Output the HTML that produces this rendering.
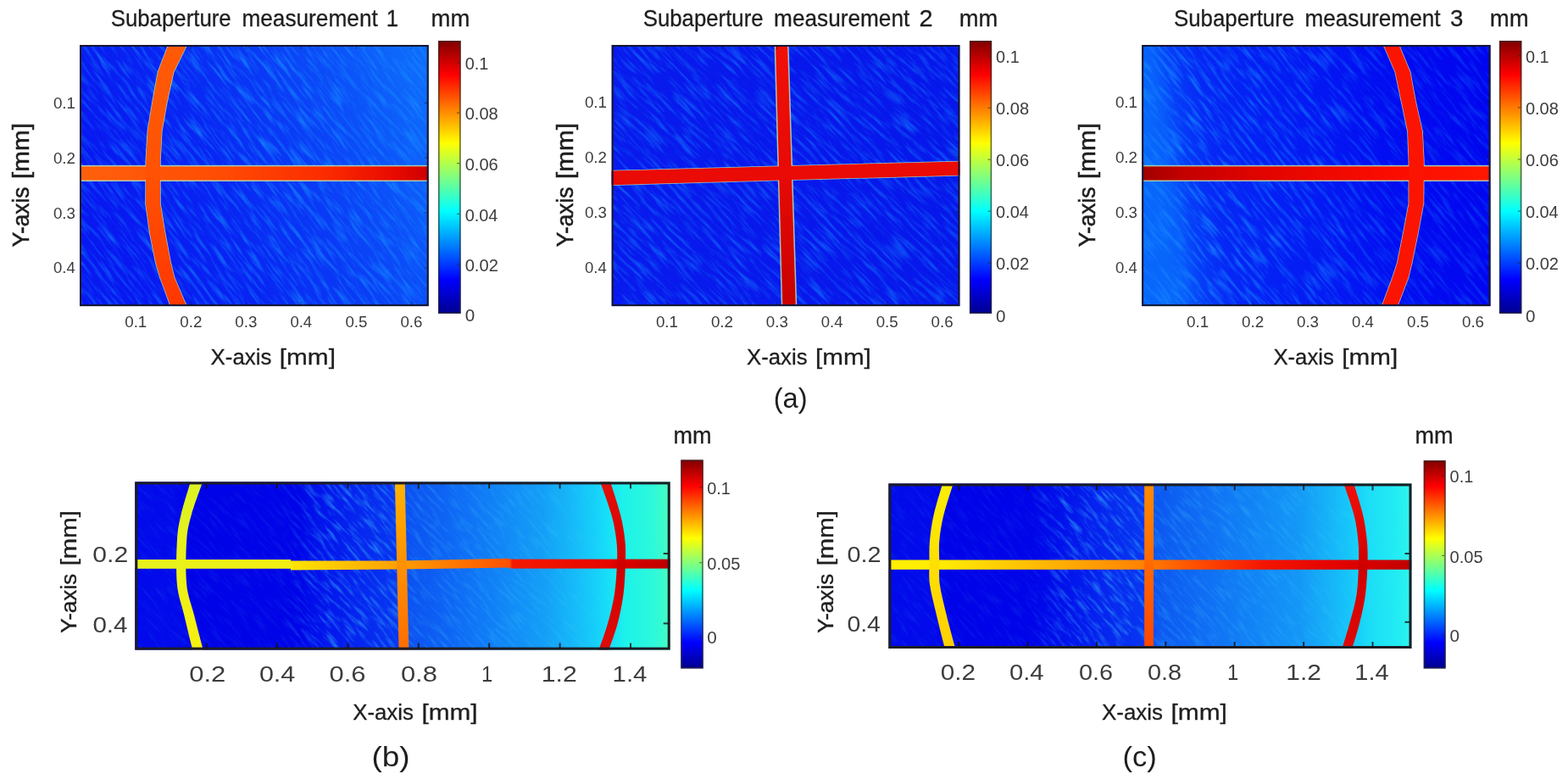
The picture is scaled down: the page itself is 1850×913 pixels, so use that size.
<!DOCTYPE html>
<html lang="en">
<head>
<meta charset="utf-8">
<title>Subaperture measurements</title>
<style>
html,body{margin:0;padding:0;background:#fff;}
body{width:1850px;height:913px;overflow:hidden;font-family:"Liberation Sans", sans-serif;}
svg{display:block;font-family:"Liberation Sans", sans-serif;}
</style>
</head>
<body>
<svg width="1850" height="913" viewBox="0 0 1850 913">
<defs>
<linearGradient id="jet" x1="0" y1="1" x2="0" y2="0"><stop offset="0" stop-color="#00008f"/><stop offset="0.125" stop-color="#0000ff"/><stop offset="0.375" stop-color="#00ffff"/><stop offset="0.625" stop-color="#ffff00"/><stop offset="0.875" stop-color="#ff0000"/><stop offset="1" stop-color="#800000"/></linearGradient>
<linearGradient id="bgt0" x1="0" y1="0.3" x2="1" y2="0"><stop offset="0" stop-color="#0818f1"/><stop offset="0.3" stop-color="#0825f3"/><stop offset="0.55" stop-color="#0a3bf6"/><stop offset="0.75" stop-color="#0c52f9"/><stop offset="0.9" stop-color="#0e66fb"/><stop offset="1" stop-color="#0e6efb"/></linearGradient>
<clipPath id="clip0"><rect x="94" y="53" width="411.7" height="308.1"/></clipPath>
<filter id="tx0" x="0" y="0" width="1" height="1" color-interpolation-filters="sRGB"><feTurbulence type="fractalNoise" baseFrequency="0.03 0.24" numOctaves="3" seed="7" result="n"/><feColorMatrix in="n" type="matrix" values="0 0 0 0 0.08  0 0 0 0 0.52  0 0 0 0 1.0  2.2 0 0 0 -1.0"/></filter>
<linearGradient id="mgt0" x1="0" y1="0.3" x2="1" y2="0"><stop offset="0" stop-color="#a5a5a5"/><stop offset="0.3" stop-color="#d2d2d2"/><stop offset="0.55" stop-color="#ffffff"/><stop offset="0.75" stop-color="#ffffff"/><stop offset="0.9" stop-color="#ffffff"/><stop offset="1" stop-color="#ffffff"/></linearGradient>
<mask id="mkt0" maskUnits="userSpaceOnUse" x="94" y="53" width="411.7" height="308.1"><rect x="94" y="53" width="411.7" height="308.1" fill="url(#mgt0)"/></mask>
<linearGradient id="hb0" x1="0" y1="0" x2="1" y2="0"><stop offset="0" stop-color="#ff600c"/><stop offset="0.4" stop-color="#ff4c04"/><stop offset="0.7" stop-color="#fc2c00"/><stop offset="0.9" stop-color="#e80a00"/><stop offset="1" stop-color="#cc0000"/></linearGradient>
<linearGradient id="vb0" x1="0" y1="0" x2="0" y2="1"><stop offset="0" stop-color="#ff5a08"/><stop offset="0.5" stop-color="#ff5204"/><stop offset="1" stop-color="#ff3600"/></linearGradient>
<linearGradient id="bgt1" x1="0" y1="0.1" x2="1" y2="0"><stop offset="0" stop-color="#081aed"/><stop offset="0.5" stop-color="#0818ec"/><stop offset="1" stop-color="#0617eb"/></linearGradient>
<clipPath id="clip1"><rect x="721.7" y="53" width="410.7" height="308.1"/></clipPath>
<filter id="tx1" x="0" y="0" width="1" height="1" color-interpolation-filters="sRGB"><feTurbulence type="fractalNoise" baseFrequency="0.03 0.24" numOctaves="3" seed="11" result="n"/><feColorMatrix in="n" type="matrix" values="0 0 0 0 0.08  0 0 0 0 0.52  0 0 0 0 1.0  2.2 0 0 0 -1.0"/></filter>
<linearGradient id="mgt1" x1="0" y1="0.1" x2="1" y2="0"><stop offset="0" stop-color="#acacac"/><stop offset="0.5" stop-color="#a5a5a5"/><stop offset="1" stop-color="#9f9f9f"/></linearGradient>
<mask id="mkt1" maskUnits="userSpaceOnUse" x="721.7" y="53" width="410.7" height="308.1"><rect x="721.7" y="53" width="410.7" height="308.1" fill="url(#mgt1)"/></mask>
<linearGradient id="vb1" x1="0" y1="0" x2="0" y2="1"><stop offset="0" stop-color="#f01008"/><stop offset="0.5" stop-color="#e60a06"/><stop offset="1" stop-color="#c80000"/></linearGradient>
<linearGradient id="bgt2" x1="0" y1="0.1" x2="1" y2="0"><stop offset="0" stop-color="#0866fb"/><stop offset="0.04" stop-color="#085dfb"/><stop offset="0.09" stop-color="#063bf8"/><stop offset="0.17" stop-color="#0627f5"/><stop offset="0.3" stop-color="#0420f4"/><stop offset="0.5" stop-color="#0417f3"/><stop offset="0.65" stop-color="#020ef1"/><stop offset="0.8" stop-color="#0208f0"/><stop offset="1" stop-color="#0005ef"/></linearGradient>
<clipPath id="clip2"><rect x="1347.2" y="53" width="411.3" height="308.1"/></clipPath>
<filter id="tx2" x="0" y="0" width="1" height="1" color-interpolation-filters="sRGB"><feTurbulence type="fractalNoise" baseFrequency="0.03 0.24" numOctaves="3" seed="23" result="n"/><feColorMatrix in="n" type="matrix" values="0 0 0 0 0.08  0 0 0 0 0.52  0 0 0 0 1.0  2.2 0 0 0 -1.0"/></filter>
<linearGradient id="mgt2" x1="0" y1="0.1" x2="1" y2="0"><stop offset="0" stop-color="#ffffff"/><stop offset="0.04" stop-color="#ffffff"/><stop offset="0.09" stop-color="#ffffff"/><stop offset="0.17" stop-color="#d8d8d8"/><stop offset="0.3" stop-color="#bfbfbf"/><stop offset="0.5" stop-color="#9f9f9f"/><stop offset="0.65" stop-color="#7f7f7f"/><stop offset="0.8" stop-color="#6c6c6c"/><stop offset="1" stop-color="#5f5f5f"/></linearGradient>
<mask id="mkt2" maskUnits="userSpaceOnUse" x="1347.2" y="53" width="411.3" height="308.1"><rect x="1347.2" y="53" width="411.3" height="308.1" fill="url(#mgt2)"/></mask>
<linearGradient id="hb2" x1="0" y1="0" x2="1" y2="0"><stop offset="0" stop-color="#a00000"/><stop offset="0.12" stop-color="#c40000"/><stop offset="0.35" stop-color="#e20400"/><stop offset="0.7" stop-color="#fa0c00"/><stop offset="1" stop-color="#ff1800"/></linearGradient>
<clipPath id="clipb0"><rect x="159.3" y="568.4" width="631.4" height="198.2"/></clipPath>
<linearGradient id="bgb0" x1="159.3" y1="568.4" x2="790.7" y2="556.4" gradientUnits="userSpaceOnUse"><stop offset="0.0011" stop-color="#020aeb"/><stop offset="0.0708" stop-color="#020aeb"/><stop offset="0.1056" stop-color="#0002e7"/><stop offset="0.302" stop-color="#0004e8"/><stop offset="0.3337" stop-color="#0210eb"/><stop offset="0.4129" stop-color="#0625ef"/><stop offset="0.4857" stop-color="#0837f1"/><stop offset="0.5048" stop-color="#0c50f1"/><stop offset="0.5713" stop-color="#0e62f4"/><stop offset="0.6346" stop-color="#1076f6"/><stop offset="0.698" stop-color="#128bf7"/><stop offset="0.7613" stop-color="#149ff7"/><stop offset="0.8247" stop-color="#16bef9"/><stop offset="0.8564" stop-color="#16d0f9"/><stop offset="0.8785" stop-color="#16def9"/><stop offset="0.9102" stop-color="#1cf2eb"/><stop offset="0.9672" stop-color="#2efad9"/><stop offset="0.9989" stop-color="#4afcbd"/></linearGradient>
<linearGradient id="hbb0" x1="159.3" y1="0" x2="790.7" y2="0" gradientUnits="userSpaceOnUse"><stop offset="0" stop-color="#e6f21e"/><stop offset="0.29" stop-color="#f2ee12"/><stop offset="0.295" stop-color="#ffe400"/><stop offset="0.485" stop-color="#ffa200"/><stop offset="0.7" stop-color="#ff5000"/><stop offset="0.705" stop-color="#f41a00"/><stop offset="0.885" stop-color="#e60600"/><stop offset="0.9" stop-color="#dc0000"/><stop offset="1" stop-color="#bc0000"/></linearGradient>
<filter id="txb0" x="0" y="0" width="1" height="1" color-interpolation-filters="sRGB"><feTurbulence type="fractalNoise" baseFrequency="0.04 0.25" numOctaves="3" seed="5" result="n"/><feColorMatrix in="n" type="matrix" values="0 0 0 0 0.25  0 0 0 0 0.85  0 0 0 0 1.0  1.2 0 0 0 -0.56"/></filter>
<linearGradient id="mg0" x1="159.3" y1="0" x2="790.7" y2="0" gradientUnits="userSpaceOnUse"><stop offset="0.0" stop-color="#333"/><stop offset="0.2704" stop-color="#333"/><stop offset="0.3495" stop-color="#fff"/><stop offset="0.4921" stop-color="#fff"/><stop offset="0.5079" stop-color="#999"/><stop offset="0.888" stop-color="#555"/><stop offset="0.9197" stop-color="#222"/><stop offset="1.0" stop-color="#222"/></linearGradient>
<mask id="mk0" maskUnits="userSpaceOnUse" x="159.3" y="568.4" width="631.4" height="198.2"><rect x="159.3" y="568.4" width="631.4" height="198.2" fill="url(#mg0)"/></mask>
<linearGradient id="la0" x1="0" y1="0" x2="0" y2="1"><stop offset="0" stop-color="#dcf224"/><stop offset="1" stop-color="#f8f010"/></linearGradient>
<linearGradient id="ma0" x1="0" y1="0" x2="0" y2="1"><stop offset="0" stop-color="#ffb400"/><stop offset="1" stop-color="#ff6c00"/></linearGradient>
<linearGradient id="ra0" x1="0" y1="0" x2="0" y2="1"><stop offset="0" stop-color="#e41008"/><stop offset="0.35" stop-color="#d80402"/><stop offset="0.5" stop-color="#cc0000"/><stop offset="0.65" stop-color="#d40402"/><stop offset="1" stop-color="#e00c06"/></linearGradient>
<clipPath id="clipb1"><rect x="1048.4" y="570.4" width="617.1" height="194.6"/></clipPath>
<linearGradient id="bgb1" x1="1048.4" y1="570.4" x2="1665.5" y2="558.4" gradientUnits="userSpaceOnUse"><stop offset="-0.0006" stop-color="#020aeb"/><stop offset="0.0739" stop-color="#020aeb"/><stop offset="0.1095" stop-color="#0002e8"/><stop offset="0.27" stop-color="#0004e9"/><stop offset="0.3267" stop-color="#0210eb"/><stop offset="0.4077" stop-color="#0625ef"/><stop offset="0.4871" stop-color="#0837f1"/><stop offset="0.5082" stop-color="#0c56f1"/><stop offset="0.6022" stop-color="#106ef4"/><stop offset="0.6994" stop-color="#1285f6"/><stop offset="0.7804" stop-color="#1497f7"/><stop offset="0.829" stop-color="#16aef8"/><stop offset="0.8777" stop-color="#16c6f9"/><stop offset="0.9165" stop-color="#1cdef7"/><stop offset="0.9668" stop-color="#22ecf3"/><stop offset="1.0008" stop-color="#30f6eb"/></linearGradient>
<linearGradient id="hbb1" x1="1048.4" y1="0" x2="1665.5" y2="0" gradientUnits="userSpaceOnUse"><stop offset="0" stop-color="#fff000"/><stop offset="0.1" stop-color="#ffec00"/><stop offset="0.25" stop-color="#ffc400"/><stop offset="0.48" stop-color="#ff8400"/><stop offset="0.6" stop-color="#ff4800"/><stop offset="0.72" stop-color="#f41400"/><stop offset="0.88" stop-color="#e00000"/><stop offset="1" stop-color="#c00000"/></linearGradient>
<filter id="txb1" x="0" y="0" width="1" height="1" color-interpolation-filters="sRGB"><feTurbulence type="fractalNoise" baseFrequency="0.04 0.25" numOctaves="3" seed="17" result="n"/><feColorMatrix in="n" type="matrix" values="0 0 0 0 0.25  0 0 0 0 0.85  0 0 0 0 1.0  1.2 0 0 0 -0.56"/></filter>
<linearGradient id="mg1" x1="1048.4" y1="0" x2="1665.5" y2="0" gradientUnits="userSpaceOnUse"><stop offset="0.0" stop-color="#333"/><stop offset="0.27" stop-color="#333"/><stop offset="0.351" stop-color="#fff"/><stop offset="0.4968" stop-color="#fff"/><stop offset="0.513" stop-color="#999"/><stop offset="0.8939" stop-color="#555"/><stop offset="0.9263" stop-color="#222"/><stop offset="1.0" stop-color="#222"/></linearGradient>
<mask id="mk1" maskUnits="userSpaceOnUse" x="1048.4" y="570.4" width="617.1" height="194.6"><rect x="1048.4" y="570.4" width="617.1" height="194.6" fill="url(#mg1)"/></mask>
<linearGradient id="la1" x1="0" y1="0" x2="0" y2="1"><stop offset="0" stop-color="#fcee04"/><stop offset="1" stop-color="#ffd000"/></linearGradient>
<linearGradient id="ma1" x1="0" y1="0" x2="0" y2="1"><stop offset="0" stop-color="#ff8c00"/><stop offset="1" stop-color="#ff4400"/></linearGradient>
<linearGradient id="ra1" x1="0" y1="0" x2="0" y2="1"><stop offset="0" stop-color="#f01008"/><stop offset="0.35" stop-color="#dc0604"/><stop offset="0.5" stop-color="#cc0000"/><stop offset="0.65" stop-color="#d60402"/><stop offset="1" stop-color="#dc0804"/></linearGradient>
</defs>
<rect width="1850" height="913" fill="#ffffff"/>
<g id="panel1">
<rect x="94" y="53" width="411.7" height="308.1" fill="url(#bgt0)"/>
<g clip-path="url(#clip0)">
<g mask="url(#mkt0)">
<rect x="38.7" y="-54.1" width="522.2" height="522.2" transform="rotate(52 299.9 207.1)" filter="url(#tx0)"/>
</g>
<polygon points="198.7,53 186.4,85 180,120 174.2,155 172.2,190 171.9,240 176.8,275 183.8,310 189,327.6 201.2,361 220,361 205.7,327.6 201.3,310 194.7,275 189,240 189,190 190.8,155 197,120 204.8,85 220.5,53" fill="url(#vb0)" stroke="#b4f0c4" stroke-width="1.5" stroke-opacity="0.8"/>
<rect x="94" y="195.6" width="411.7" height="17.7" fill="url(#hb0)" stroke="#b4f0c4" stroke-width="1.5" stroke-opacity="0.8"/>
<polygon points="198.7,53 186.4,85 180,120 174.2,155 172.2,190 171.9,240 176.8,275 183.8,310 189,327.6 201.2,361 220,361 205.7,327.6 201.3,310 194.7,275 189,240 189,190 190.8,155 197,120 204.8,85 220.5,53" fill="url(#vb0)"/>
</g>
<rect x="95" y="54" width="409.7" height="306.1" fill="none" stroke="#151530" stroke-width="2"/>
<rect x="159.6" y="356.1" width="1.2" height="4" fill="#111" opacity="0.4"/>
<rect x="159.6" y="54" width="1.2" height="4" fill="#111" opacity="0.4"/>
<text x="147.2" y="385.6" font-size="18" fill="#3c3c3c" textLength="26.13" lengthAdjust="spacingAndGlyphs">0.1</text>
<rect x="224.6" y="356.1" width="1.2" height="4" fill="#111" opacity="0.4"/>
<rect x="224.6" y="54" width="1.2" height="4" fill="#111" opacity="0.4"/>
<text x="212.3" y="385.6" font-size="18" fill="#3c3c3c" textLength="26.13" lengthAdjust="spacingAndGlyphs">0.2</text>
<rect x="289.7" y="356.1" width="1.2" height="4" fill="#111" opacity="0.4"/>
<rect x="289.7" y="54" width="1.2" height="4" fill="#111" opacity="0.4"/>
<text x="277.3" y="385.6" font-size="18" fill="#3c3c3c" textLength="26.03" lengthAdjust="spacingAndGlyphs">0.3</text>
<rect x="354.7" y="356.1" width="1.2" height="4" fill="#111" opacity="0.4"/>
<rect x="354.7" y="54" width="1.2" height="4" fill="#111" opacity="0.4"/>
<text x="342.4" y="385.6" font-size="18" fill="#3c3c3c" textLength="25.73" lengthAdjust="spacingAndGlyphs">0.4</text>
<rect x="419.8" y="356.1" width="1.2" height="4" fill="#111" opacity="0.4"/>
<rect x="419.8" y="54" width="1.2" height="4" fill="#111" opacity="0.4"/>
<text x="407.4" y="385.6" font-size="18" fill="#3c3c3c" textLength="26.03" lengthAdjust="spacingAndGlyphs">0.5</text>
<rect x="484.8" y="356.1" width="1.2" height="4" fill="#111" opacity="0.4"/>
<rect x="484.8" y="54" width="1.2" height="4" fill="#111" opacity="0.4"/>
<text x="472.4" y="385.6" font-size="18" fill="#3c3c3c" textLength="26.03" lengthAdjust="spacingAndGlyphs">0.6</text>
<rect x="500.7" y="120.8" width="4" height="1.2" fill="#111" opacity="0.4"/>
<text x="62.9" y="127.9" font-size="18" fill="#3c3c3c" textLength="26.13" lengthAdjust="spacingAndGlyphs">0.1</text>
<rect x="500.7" y="185.6" width="4" height="1.2" fill="#111" opacity="0.4"/>
<text x="62.9" y="192.7" font-size="18" fill="#3c3c3c" textLength="26.13" lengthAdjust="spacingAndGlyphs">0.2</text>
<rect x="500.7" y="250.4" width="4" height="1.2" fill="#111" opacity="0.4"/>
<text x="62.9" y="257.5" font-size="18" fill="#3c3c3c" textLength="26.03" lengthAdjust="spacingAndGlyphs">0.3</text>
<rect x="500.7" y="315.2" width="4" height="1.2" fill="#111" opacity="0.4"/>
<text x="63" y="322.3" font-size="18" fill="#3c3c3c" textLength="25.73" lengthAdjust="spacingAndGlyphs">0.4</text>
<text y="31.4" font-size="27.8" fill="#1e1e1e" stroke="#1e1e1e" stroke-width="0.3"><tspan x="130.7" textLength="142.02" lengthAdjust="spacingAndGlyphs">Subaperture</tspan> <tspan x="285.4" textLength="160.38" lengthAdjust="spacingAndGlyphs">measurement</tspan> <tspan x="455.7" textLength="14.32" lengthAdjust="spacingAndGlyphs">1</tspan></text>
<text x="508.6" y="31.4" font-size="27.8" fill="#1e1e1e" stroke="#1e1e1e" stroke-width="0.3" textLength="45.82" lengthAdjust="spacingAndGlyphs">mm</text>
<text y="429.5" font-size="26.5" fill="#1e1e1e" stroke="#1e1e1e" stroke-width="0.3"><tspan x="248.6" textLength="71.70" lengthAdjust="spacingAndGlyphs">X-axis</tspan> <tspan x="329.8" textLength="66.13" lengthAdjust="spacingAndGlyphs">[mm]</tspan></text>
<text transform="translate(33.5 0) rotate(-90)" y="0" font-size="27.5" fill="#1e1e1e" stroke="#1e1e1e" stroke-width="0.55"><tspan x="-291.2" textLength="70.70" lengthAdjust="spacingAndGlyphs">Y-axis</tspan> <tspan x="-210.9" textLength="65.75" lengthAdjust="spacingAndGlyphs">[mm]</tspan></text>
<rect x="517" y="48.1" width="26.6" height="321.7" fill="url(#jet)"/>
<rect x="517.8" y="48.9" width="25.1" height="320.2" fill="none" stroke="#2a2a2a" stroke-opacity="0.7" stroke-width="1.5"/>
<text x="548.7" y="81.9" font-size="19.5" fill="#3c3c3c" textLength="27.61" lengthAdjust="spacingAndGlyphs">0.1</text>
<rect x="539.1" y="73.2" width="3" height="1.2" fill="#222" opacity="0.6"/>
<text x="548.7" y="141.3" font-size="19.5" fill="#3c3c3c" textLength="39.03" lengthAdjust="spacingAndGlyphs">0.08</text>
<rect x="539.1" y="132.6" width="3" height="1.2" fill="#222" opacity="0.6"/>
<text x="548.7" y="200.7" font-size="19.5" fill="#3c3c3c" textLength="39.03" lengthAdjust="spacingAndGlyphs">0.06</text>
<rect x="539.1" y="192" width="3" height="1.2" fill="#222" opacity="0.6"/>
<text x="548.7" y="260.5" font-size="19.5" fill="#3c3c3c" textLength="38.72" lengthAdjust="spacingAndGlyphs">0.04</text>
<rect x="539.1" y="251.8" width="3" height="1.2" fill="#222" opacity="0.6"/>
<text x="548.7" y="320.1" font-size="19.5" fill="#3c3c3c" textLength="39.13" lengthAdjust="spacingAndGlyphs">0.02</text>
<rect x="539.1" y="311.4" width="3" height="1.2" fill="#222" opacity="0.6"/>
<text x="548.7" y="379.4" font-size="19.5" fill="#3c3c3c" textLength="11.47" lengthAdjust="spacingAndGlyphs">0</text>
</g>
<g id="panel2">
<rect x="721.7" y="53" width="410.7" height="308.1" fill="url(#bgt1)"/>
<g clip-path="url(#clip1)">
<g mask="url(#mkt1)">
<rect x="666.3" y="-53.7" width="521.4" height="521.4" transform="rotate(45 927.1 207.1)" filter="url(#tx1)"/>
</g>
<polygon points="719.7,201.6 1134.4,190.4 1134.4,206.6 719.7,218.2" fill="#ea0a06" stroke="#b4f0c4" stroke-width="1.5" stroke-opacity="0.8"/>
<polygon points="914.3,52 922.6,362 939.6,362 929.8,52" fill="url(#vb1)" stroke="#b4f0c4" stroke-width="1.5" stroke-opacity="0.8"/>
<polygon points="719.7,201.6 1134.4,190.4 1134.4,206.6 719.7,218.2" fill="#ea0a06"/>
</g>
<rect x="722.7" y="54" width="408.7" height="306.1" fill="none" stroke="#151530" stroke-width="2"/>
<rect x="786.3" y="356.1" width="1.2" height="4" fill="#111" opacity="0.4"/>
<rect x="786.3" y="54" width="1.2" height="4" fill="#111" opacity="0.4"/>
<text x="773.9" y="385.6" font-size="18" fill="#3c3c3c" textLength="26.13" lengthAdjust="spacingAndGlyphs">0.1</text>
<rect x="851.2" y="356.1" width="1.2" height="4" fill="#111" opacity="0.4"/>
<rect x="851.2" y="54" width="1.2" height="4" fill="#111" opacity="0.4"/>
<text x="838.9" y="385.6" font-size="18" fill="#3c3c3c" textLength="26.13" lengthAdjust="spacingAndGlyphs">0.2</text>
<rect x="916.2" y="356.1" width="1.2" height="4" fill="#111" opacity="0.4"/>
<rect x="916.2" y="54" width="1.2" height="4" fill="#111" opacity="0.4"/>
<text x="903.8" y="385.6" font-size="18" fill="#3c3c3c" textLength="26.03" lengthAdjust="spacingAndGlyphs">0.3</text>
<rect x="981.1" y="356.1" width="1.2" height="4" fill="#111" opacity="0.4"/>
<rect x="981.1" y="54" width="1.2" height="4" fill="#111" opacity="0.4"/>
<text x="968.8" y="385.6" font-size="18" fill="#3c3c3c" textLength="25.73" lengthAdjust="spacingAndGlyphs">0.4</text>
<rect x="1046.1" y="356.1" width="1.2" height="4" fill="#111" opacity="0.4"/>
<rect x="1046.1" y="54" width="1.2" height="4" fill="#111" opacity="0.4"/>
<text x="1033.7" y="385.6" font-size="18" fill="#3c3c3c" textLength="26.03" lengthAdjust="spacingAndGlyphs">0.5</text>
<rect x="1111" y="356.1" width="1.2" height="4" fill="#111" opacity="0.4"/>
<rect x="1111" y="54" width="1.2" height="4" fill="#111" opacity="0.4"/>
<text x="1098.6" y="385.6" font-size="18" fill="#3c3c3c" textLength="26.03" lengthAdjust="spacingAndGlyphs">0.6</text>
<rect x="1127.4" y="120" width="4" height="1.2" fill="#111" opacity="0.4"/>
<text x="689.9" y="127.1" font-size="18" fill="#3c3c3c" textLength="26.13" lengthAdjust="spacingAndGlyphs">0.1</text>
<rect x="1127.4" y="184.8" width="4" height="1.2" fill="#111" opacity="0.4"/>
<text x="689.9" y="191.9" font-size="18" fill="#3c3c3c" textLength="26.13" lengthAdjust="spacingAndGlyphs">0.2</text>
<rect x="1127.4" y="249.6" width="4" height="1.2" fill="#111" opacity="0.4"/>
<text x="689.9" y="256.7" font-size="18" fill="#3c3c3c" textLength="26.03" lengthAdjust="spacingAndGlyphs">0.3</text>
<rect x="1127.4" y="314.4" width="4" height="1.2" fill="#111" opacity="0.4"/>
<text x="690" y="321.5" font-size="18" fill="#3c3c3c" textLength="25.73" lengthAdjust="spacingAndGlyphs">0.4</text>
<text y="31.4" font-size="27.8" fill="#1e1e1e" stroke="#1e1e1e" stroke-width="0.3"><tspan x="758.7" textLength="141.92" lengthAdjust="spacingAndGlyphs">Subaperture</tspan> <tspan x="913.1" textLength="160.18" lengthAdjust="spacingAndGlyphs">measurement</tspan> <tspan x="1084.4" textLength="16.08" lengthAdjust="spacingAndGlyphs">2</tspan></text>
<text x="1131.8" y="31.4" font-size="27.8" fill="#1e1e1e" stroke="#1e1e1e" stroke-width="0.3" textLength="45.50" lengthAdjust="spacingAndGlyphs">mm</text>
<text y="429.5" font-size="26.5" fill="#1e1e1e" stroke="#1e1e1e" stroke-width="0.3"><tspan x="881.1" textLength="71.41" lengthAdjust="spacingAndGlyphs">X-axis</tspan> <tspan x="962" textLength="65.86" lengthAdjust="spacingAndGlyphs">[mm]</tspan></text>
<text transform="translate(675.8 0) rotate(-90)" y="0" font-size="27.5" fill="#1e1e1e" stroke="#1e1e1e" stroke-width="0.55"><tspan x="-291.2" textLength="70.70" lengthAdjust="spacingAndGlyphs">Y-axis</tspan> <tspan x="-210.9" textLength="65.75" lengthAdjust="spacingAndGlyphs">[mm]</tspan></text>
<rect x="1143.9" y="48.1" width="26.2" height="321.7" fill="url(#jet)"/>
<rect x="1144.7" y="48.9" width="24.7" height="320.2" fill="none" stroke="#2a2a2a" stroke-opacity="0.7" stroke-width="1.5"/>
<text x="1175.1" y="74.3" font-size="19.5" fill="#3c3c3c" textLength="27.61" lengthAdjust="spacingAndGlyphs">0.1</text>
<rect x="1165.6" y="65.6" width="3" height="1.2" fill="#222" opacity="0.6"/>
<text x="1175.1" y="135.3" font-size="19.5" fill="#3c3c3c" textLength="39.03" lengthAdjust="spacingAndGlyphs">0.08</text>
<rect x="1165.6" y="126.6" width="3" height="1.2" fill="#222" opacity="0.6"/>
<text x="1175.1" y="196.3" font-size="19.5" fill="#3c3c3c" textLength="39.03" lengthAdjust="spacingAndGlyphs">0.06</text>
<rect x="1165.6" y="187.6" width="3" height="1.2" fill="#222" opacity="0.6"/>
<text x="1175.1" y="257.3" font-size="19.5" fill="#3c3c3c" textLength="38.72" lengthAdjust="spacingAndGlyphs">0.04</text>
<rect x="1165.6" y="248.6" width="3" height="1.2" fill="#222" opacity="0.6"/>
<text x="1175.1" y="318.3" font-size="19.5" fill="#3c3c3c" textLength="39.13" lengthAdjust="spacingAndGlyphs">0.02</text>
<rect x="1165.6" y="309.6" width="3" height="1.2" fill="#222" opacity="0.6"/>
<text x="1175.1" y="379.5" font-size="19.5" fill="#3c3c3c" textLength="11.47" lengthAdjust="spacingAndGlyphs">0</text>
</g>
<g id="panel3">
<rect x="1347.2" y="53" width="411.3" height="308.1" fill="url(#bgt2)"/>
<g clip-path="url(#clip2)">
<g mask="url(#mkt2)">
<rect x="1291.9" y="-53.9" width="521.9" height="521.9" transform="rotate(50 1552.8 207.1)" filter="url(#tx2)"/>
</g>
<polygon points="1632.4,53 1646.2,85 1653.6,120 1660.9,155 1662.3,190 1662.3,240 1655.7,275 1648.7,310 1643,327.6 1630.5,361 1648.8,361 1661.5,327.6 1665.8,310 1672.9,275 1679.5,240 1679.9,190 1678.1,155 1670.2,120 1663.7,85 1650.5,53" fill="#fc1402" stroke="#b4f0c4" stroke-width="1.5" stroke-opacity="0.8"/>
<rect x="1347.2" y="195.6" width="411.3" height="17.7" fill="url(#hb2)" stroke="#b4f0c4" stroke-width="1.5" stroke-opacity="0.8"/>
<polygon points="1632.4,53 1646.2,85 1653.6,120 1660.9,155 1662.3,190 1662.3,240 1655.7,275 1648.7,310 1643,327.6 1630.5,361 1648.8,361 1661.5,327.6 1665.8,310 1672.9,275 1679.5,240 1679.9,190 1678.1,155 1670.2,120 1663.7,85 1650.5,53" fill="#fc1402"/>
</g>
<rect x="1348.2" y="54" width="409.3" height="306.1" fill="none" stroke="#151530" stroke-width="2"/>
<rect x="1412.4" y="356.1" width="1.2" height="4" fill="#111" opacity="0.4"/>
<rect x="1412.4" y="54" width="1.2" height="4" fill="#111" opacity="0.4"/>
<text x="1400" y="385.6" font-size="18" fill="#3c3c3c" textLength="26.13" lengthAdjust="spacingAndGlyphs">0.1</text>
<rect x="1477.4" y="356.1" width="1.2" height="4" fill="#111" opacity="0.4"/>
<rect x="1477.4" y="54" width="1.2" height="4" fill="#111" opacity="0.4"/>
<text x="1465" y="385.6" font-size="18" fill="#3c3c3c" textLength="26.13" lengthAdjust="spacingAndGlyphs">0.2</text>
<rect x="1542.4" y="356.1" width="1.2" height="4" fill="#111" opacity="0.4"/>
<rect x="1542.4" y="54" width="1.2" height="4" fill="#111" opacity="0.4"/>
<text x="1530" y="385.6" font-size="18" fill="#3c3c3c" textLength="26.03" lengthAdjust="spacingAndGlyphs">0.3</text>
<rect x="1607.4" y="356.1" width="1.2" height="4" fill="#111" opacity="0.4"/>
<rect x="1607.4" y="54" width="1.2" height="4" fill="#111" opacity="0.4"/>
<text x="1595.1" y="385.6" font-size="18" fill="#3c3c3c" textLength="25.73" lengthAdjust="spacingAndGlyphs">0.4</text>
<rect x="1672.4" y="356.1" width="1.2" height="4" fill="#111" opacity="0.4"/>
<rect x="1672.4" y="54" width="1.2" height="4" fill="#111" opacity="0.4"/>
<text x="1660" y="385.6" font-size="18" fill="#3c3c3c" textLength="26.03" lengthAdjust="spacingAndGlyphs">0.5</text>
<rect x="1737.4" y="356.1" width="1.2" height="4" fill="#111" opacity="0.4"/>
<rect x="1737.4" y="54" width="1.2" height="4" fill="#111" opacity="0.4"/>
<text x="1725" y="385.6" font-size="18" fill="#3c3c3c" textLength="26.03" lengthAdjust="spacingAndGlyphs">0.6</text>
<rect x="1753.5" y="119.8" width="4" height="1.2" fill="#111" opacity="0.4"/>
<text x="1315.9" y="126.9" font-size="18" fill="#3c3c3c" textLength="26.13" lengthAdjust="spacingAndGlyphs">0.1</text>
<rect x="1753.5" y="184.7" width="4" height="1.2" fill="#111" opacity="0.4"/>
<text x="1315.9" y="191.8" font-size="18" fill="#3c3c3c" textLength="26.13" lengthAdjust="spacingAndGlyphs">0.2</text>
<rect x="1753.5" y="249.6" width="4" height="1.2" fill="#111" opacity="0.4"/>
<text x="1315.9" y="256.7" font-size="18" fill="#3c3c3c" textLength="26.03" lengthAdjust="spacingAndGlyphs">0.3</text>
<rect x="1753.5" y="314.5" width="4" height="1.2" fill="#111" opacity="0.4"/>
<text x="1316" y="321.6" font-size="18" fill="#3c3c3c" textLength="25.73" lengthAdjust="spacingAndGlyphs">0.4</text>
<text y="31.4" font-size="27.8" fill="#1e1e1e" stroke="#1e1e1e" stroke-width="0.3"><tspan x="1385" textLength="142.23" lengthAdjust="spacingAndGlyphs">Subaperture</tspan> <tspan x="1539.4" textLength="160.18" lengthAdjust="spacingAndGlyphs">measurement</tspan> <tspan x="1711.1" textLength="15.41" lengthAdjust="spacingAndGlyphs">3</tspan></text>
<text x="1757.8" y="31.4" font-size="27.8" fill="#1e1e1e" stroke="#1e1e1e" stroke-width="0.3" textLength="45.82" lengthAdjust="spacingAndGlyphs">mm</text>
<text y="429.5" font-size="26.5" fill="#1e1e1e" stroke="#1e1e1e" stroke-width="0.3"><tspan x="1502.4" textLength="71.41" lengthAdjust="spacingAndGlyphs">X-axis</tspan> <tspan x="1583.3" textLength="65.86" lengthAdjust="spacingAndGlyphs">[mm]</tspan></text>
<text transform="translate(1291.5 0) rotate(-90)" y="0" font-size="27.5" fill="#1e1e1e" stroke="#1e1e1e" stroke-width="0.55"><tspan x="-291.2" textLength="70.70" lengthAdjust="spacingAndGlyphs">Y-axis</tspan> <tspan x="-210.9" textLength="65.75" lengthAdjust="spacingAndGlyphs">[mm]</tspan></text>
<rect x="1768.9" y="48.1" width="26.4" height="321.7" fill="url(#jet)"/>
<rect x="1769.7" y="48.9" width="24.9" height="320.2" fill="none" stroke="#2a2a2a" stroke-opacity="0.7" stroke-width="1.5"/>
<text x="1799.9" y="73.9" font-size="19.5" fill="#3c3c3c" textLength="27.61" lengthAdjust="spacingAndGlyphs">0.1</text>
<rect x="1790.8" y="65.2" width="3" height="1.2" fill="#222" opacity="0.6"/>
<text x="1799.9" y="135" font-size="19.5" fill="#3c3c3c" textLength="39.03" lengthAdjust="spacingAndGlyphs">0.08</text>
<rect x="1790.8" y="126.3" width="3" height="1.2" fill="#222" opacity="0.6"/>
<text x="1799.9" y="196.1" font-size="19.5" fill="#3c3c3c" textLength="39.03" lengthAdjust="spacingAndGlyphs">0.06</text>
<rect x="1790.8" y="187.4" width="3" height="1.2" fill="#222" opacity="0.6"/>
<text x="1799.9" y="257.2" font-size="19.5" fill="#3c3c3c" textLength="38.72" lengthAdjust="spacingAndGlyphs">0.04</text>
<rect x="1790.8" y="248.5" width="3" height="1.2" fill="#222" opacity="0.6"/>
<text x="1799.9" y="318.3" font-size="19.5" fill="#3c3c3c" textLength="39.13" lengthAdjust="spacingAndGlyphs">0.02</text>
<rect x="1790.8" y="309.6" width="3" height="1.2" fill="#222" opacity="0.6"/>
<text x="1799.9" y="379.5" font-size="19.5" fill="#3c3c3c" textLength="11.47" lengthAdjust="spacingAndGlyphs">0</text>
</g>
<text x="912.7" y="480.8" font-size="34" fill="#1e1e1e" textLength="39.96" lengthAdjust="spacingAndGlyphs">(a)</text>
<g id="panelb">
<rect x="159.3" y="568.4" width="631.4" height="198.2" fill="url(#bgb0)"/>
<g clip-path="url(#clipb0)">
<g mask="url(#mk0)">
<rect x="140.1" y="332.6" width="669.8" height="669.8" transform="rotate(48 475 667.5)" filter="url(#txb0)"/>
</g>
<rect x="159.3" y="660" width="183.7" height="10.8" fill="url(#hbb0)"/>
<polygon points="343,661.6 468,661.6 601,658.8 601,669.6 468,671.5 343,672.4" fill="url(#hbb0)"/>
<rect x="601" y="659.6" width="189.7" height="11" fill="url(#hbb0)"/>
<path d="M224.9 568 C223 574.5 216.3 595.4 213.6 607 C210.9 618.6 209.7 623.9 208.9 637.7 C208.1 651.5 207.5 675.1 208.9 689.6 C210.3 704.1 214 711.9 217.1 725 C220.2 738.1 225.8 760.8 227.6 768 L240 768 C238.2 760.8 232.2 738.1 228.9 725 C225.6 711.9 221.6 704.1 220.2 689.6 C218.8 675.1 219.2 651.5 220.2 637.7 C221.1 623.9 222.7 618.6 225.9 607 C229.1 595.4 237.1 574.5 239.3 568 Z" fill="url(#la0)"/>
<polygon points="465.9,568 470.6,768 482.4,768 477.7,568" fill="url(#ma0)"/>
<path d="M708 568 C710.2 574.5 718.2 595.4 721.4 607 C724.6 618.6 726.2 628.3 727.3 637.7 C728.4 647.1 728.4 653 728 663.6 C727.6 674.2 726.8 689.1 724.9 701.3 C723 713.5 719.9 725.5 716.7 736.6 C713.6 747.7 707.8 762.8 706 768 L717.8 768 C719.6 762.8 725.4 747.7 728.4 736.6 C731.4 725.5 733.9 713.5 735.5 701.3 C737.1 689.1 737.6 674.2 737.9 663.6 C738.2 653 738.4 647.1 737.4 637.7 C736.4 628.3 734.9 618.6 732 607 C729.1 595.4 722 574.5 720 568 Z" fill="url(#ra0)"/>
</g>
<rect x="160.8" y="569.9" width="628.4" height="195.2" fill="none" stroke="#1c1c24" stroke-width="3"/>
<rect x="242.6" y="758.6" width="2" height="6" fill="#111" opacity="0.8"/>
<rect x="242.6" y="570.4" width="2" height="6" fill="#111" opacity="0.8"/>
<rect x="326" y="758.6" width="2" height="6" fill="#111" opacity="0.8"/>
<rect x="326" y="570.4" width="2" height="6" fill="#111" opacity="0.8"/>
<rect x="409.4" y="758.6" width="2" height="6" fill="#111" opacity="0.8"/>
<rect x="409.4" y="570.4" width="2" height="6" fill="#111" opacity="0.8"/>
<rect x="492.8" y="758.6" width="2" height="6" fill="#111" opacity="0.8"/>
<rect x="492.8" y="570.4" width="2" height="6" fill="#111" opacity="0.8"/>
<rect x="576.2" y="758.6" width="2" height="6" fill="#111" opacity="0.8"/>
<rect x="576.2" y="570.4" width="2" height="6" fill="#111" opacity="0.8"/>
<rect x="659.6" y="758.6" width="2" height="6" fill="#111" opacity="0.8"/>
<rect x="659.6" y="570.4" width="2" height="6" fill="#111" opacity="0.8"/>
<rect x="743" y="758.6" width="2" height="6" fill="#111" opacity="0.8"/>
<rect x="743" y="570.4" width="2" height="6" fill="#111" opacity="0.8"/>
<text x="223.2" y="804.1" font-size="26" fill="#3c3c3c" textLength="43.12" lengthAdjust="spacingAndGlyphs">0.2</text>
<text x="305.9" y="804.1" font-size="26" fill="#3c3c3c" textLength="42.47" lengthAdjust="spacingAndGlyphs">0.4</text>
<text x="388.6" y="804.1" font-size="26" fill="#3c3c3c" textLength="42.95" lengthAdjust="spacingAndGlyphs">0.6</text>
<text x="472.9" y="804.1" font-size="26" fill="#3c3c3c" textLength="42.95" lengthAdjust="spacingAndGlyphs">0.8</text>
<text x="567.9" y="804.1" font-size="26" fill="#3c3c3c" textLength="13.30" lengthAdjust="spacingAndGlyphs">1</text>
<text x="638.8" y="804.1" font-size="26" fill="#3c3c3c" textLength="41.96" lengthAdjust="spacingAndGlyphs">1.2</text>
<text x="722.6" y="804.1" font-size="26" fill="#3c3c3c" textLength="40.87" lengthAdjust="spacingAndGlyphs">1.4</text>
<rect x="782.7" y="652" width="6" height="2" fill="#111" opacity="0.8"/>
<rect x="782.7" y="734.4" width="6" height="2" fill="#111" opacity="0.8"/>
<text x="109.3" y="663.1" font-size="26" fill="#3c3c3c" textLength="41.84" lengthAdjust="spacingAndGlyphs">0.2</text>
<text x="109.4" y="746.3" font-size="26" fill="#3c3c3c" textLength="41.21" lengthAdjust="spacingAndGlyphs">0.4</text>
<text x="794.6" y="523" font-size="27.8" fill="#1e1e1e" stroke="#1e1e1e" stroke-width="0.3" textLength="45.06" lengthAdjust="spacingAndGlyphs">mm</text>
<text y="848.8" font-size="26.5" fill="#1e1e1e" stroke="#1e1e1e" stroke-width="0.3"><tspan x="416.2" textLength="71.75" lengthAdjust="spacingAndGlyphs">X-axis</tspan> <tspan x="497.4" textLength="66.18" lengthAdjust="spacingAndGlyphs">[mm]</tspan></text>
<text transform="translate(89.6 0) rotate(-90)" y="0" font-size="26.5" fill="#1e1e1e" stroke="#1e1e1e" stroke-width="0.35"><tspan x="-746.8" textLength="70.01" lengthAdjust="spacingAndGlyphs">Y-axis</tspan> <tspan x="-667.3" textLength="65.11" lengthAdjust="spacingAndGlyphs">[mm]</tspan></text>
<rect x="803.3" y="542.5" width="26.4" height="246" fill="url(#jet)"/>
<rect x="804" y="543.2" width="24.9" height="244.5" fill="none" stroke="#2a2a2a" stroke-opacity="0.7" stroke-width="1.5"/>
<text x="834.3" y="583" font-size="19.5" fill="#3c3c3c" textLength="27.61" lengthAdjust="spacingAndGlyphs">0.1</text>
<rect x="825.2" y="574.3" width="3" height="1.2" fill="#222" opacity="0.6"/>
<text x="834.3" y="671.8" font-size="19.5" fill="#3c3c3c" textLength="39.03" lengthAdjust="spacingAndGlyphs">0.05</text>
<rect x="825.2" y="663.1" width="3" height="1.2" fill="#222" opacity="0.6"/>
<text x="834.3" y="759.4" font-size="19.5" fill="#3c3c3c" textLength="11.47" lengthAdjust="spacingAndGlyphs">0</text>
<rect x="825.2" y="750.7" width="3" height="1.2" fill="#222" opacity="0.6"/>
<text x="438.5" y="903.6" font-size="34" fill="#1e1e1e" textLength="45.16" lengthAdjust="spacingAndGlyphs">(b)</text>
</g>
<g id="panelc">
<rect x="1048.4" y="570.4" width="617.1" height="194.6" fill="url(#bgb1)"/>
<g clip-path="url(#clipb1)">
<g mask="url(#mk1)">
<rect x="1029.4" y="340.2" width="655.1" height="655.1" transform="rotate(48 1357 667.7)" filter="url(#txb1)"/>
</g>
<rect x="1048.4" y="660.5" width="617.1" height="11.3" fill="url(#hbb1)"/>
<path d="M1112.8 568 C1111 574.5 1104.3 595.4 1101.7 607 C1099.1 618.6 1097.9 628.3 1097 637.7 C1096.1 647.1 1096.5 655 1096.5 663.6 C1096.5 672.2 1095.6 679.4 1097 689.6 C1098.4 699.8 1101.7 711.9 1104.8 725 C1107.9 738.1 1113.7 760.8 1115.5 768 L1128 768 C1126.1 760.8 1119.8 738.1 1116.6 725 C1113.4 711.9 1110.2 699.8 1108.8 689.6 C1107.4 679.4 1108.4 672.2 1108.3 663.6 C1108.2 655 1107.4 647.1 1108.3 637.7 C1109.2 628.3 1110.6 618.6 1113.5 607 C1116.4 595.4 1123.5 574.5 1125.5 568 Z" fill="url(#la1)"/>
<polygon points="1350.2,568 1350.2,768 1361,768 1361.2,568" fill="url(#ma1)"/>
<path d="M1584.5 568 C1586.7 574.5 1594.4 595.4 1597.4 607 C1600.4 618.6 1601.5 628.3 1602.4 637.7 C1603.3 647.1 1603.3 653 1603 663.6 C1602.7 674.2 1602.4 689.1 1600.6 701.3 C1598.8 713.5 1595 725.5 1592 736.6 C1589 747.7 1584.1 762.8 1582.5 768 L1594.3 768 C1595.9 762.8 1600.9 747.7 1603.7 736.6 C1606.5 725.5 1609.4 713.5 1611 701.3 C1612.6 689.1 1613.2 674.2 1613.5 663.6 C1613.8 653 1613.7 647.1 1612.8 637.7 C1611.9 628.3 1610.7 618.6 1608 607 C1605.3 595.4 1598.4 574.5 1596.5 568 Z" fill="url(#ra1)"/>
</g>
<rect x="1049.9" y="571.9" width="614.1" height="191.6" fill="none" stroke="#1c1c24" stroke-width="3"/>
<rect x="1130.1" y="757" width="2" height="6" fill="#111" opacity="0.8"/>
<rect x="1130.1" y="572.4" width="2" height="6" fill="#111" opacity="0.8"/>
<rect x="1211.5" y="757" width="2" height="6" fill="#111" opacity="0.8"/>
<rect x="1211.5" y="572.4" width="2" height="6" fill="#111" opacity="0.8"/>
<rect x="1292.9" y="757" width="2" height="6" fill="#111" opacity="0.8"/>
<rect x="1292.9" y="572.4" width="2" height="6" fill="#111" opacity="0.8"/>
<rect x="1374.3" y="757" width="2" height="6" fill="#111" opacity="0.8"/>
<rect x="1374.3" y="572.4" width="2" height="6" fill="#111" opacity="0.8"/>
<rect x="1455.7" y="757" width="2" height="6" fill="#111" opacity="0.8"/>
<rect x="1455.7" y="572.4" width="2" height="6" fill="#111" opacity="0.8"/>
<rect x="1537.1" y="757" width="2" height="6" fill="#111" opacity="0.8"/>
<rect x="1537.1" y="572.4" width="2" height="6" fill="#111" opacity="0.8"/>
<rect x="1618.5" y="757" width="2" height="6" fill="#111" opacity="0.8"/>
<rect x="1618.5" y="572.4" width="2" height="6" fill="#111" opacity="0.8"/>
<text x="1109.8" y="802" font-size="26" fill="#3c3c3c" textLength="41.31" lengthAdjust="spacingAndGlyphs">0.2</text>
<text x="1190.9" y="802" font-size="26" fill="#3c3c3c" textLength="40.69" lengthAdjust="spacingAndGlyphs">0.4</text>
<text x="1273" y="802" font-size="26" fill="#3c3c3c" textLength="40.10" lengthAdjust="spacingAndGlyphs">0.6</text>
<text x="1354" y="802" font-size="26" fill="#3c3c3c" textLength="40.20" lengthAdjust="spacingAndGlyphs">0.8</text>
<text x="1447.9" y="802" font-size="26" fill="#3c3c3c" textLength="13.30" lengthAdjust="spacingAndGlyphs">1</text>
<text x="1517.3" y="802" font-size="26" fill="#3c3c3c" textLength="41.52" lengthAdjust="spacingAndGlyphs">1.2</text>
<text x="1598.3" y="802" font-size="26" fill="#3c3c3c" textLength="40.23" lengthAdjust="spacingAndGlyphs">1.4</text>
<rect x="1657.5" y="652" width="6" height="2" fill="#111" opacity="0.8"/>
<rect x="1657.5" y="732.8" width="6" height="2" fill="#111" opacity="0.8"/>
<text x="999.4" y="663.1" font-size="26" fill="#3c3c3c" textLength="40.04" lengthAdjust="spacingAndGlyphs">0.2</text>
<text x="999.4" y="745.2" font-size="26" fill="#3c3c3c" textLength="39.43" lengthAdjust="spacingAndGlyphs">0.4</text>
<text x="1669.4" y="522.6" font-size="27.8" fill="#1e1e1e" stroke="#1e1e1e" stroke-width="0.3" textLength="45.06" lengthAdjust="spacingAndGlyphs">mm</text>
<text y="848.8" font-size="26.5" fill="#1e1e1e" stroke="#1e1e1e" stroke-width="0.3"><tspan x="1300" textLength="72.00" lengthAdjust="spacingAndGlyphs">X-axis</tspan> <tspan x="1381.5" textLength="66.41" lengthAdjust="spacingAndGlyphs">[mm]</tspan></text>
<text transform="translate(983.3 0) rotate(-90)" y="0" font-size="26.5" fill="#1e1e1e" stroke="#1e1e1e" stroke-width="0.35"><tspan x="-746.8" textLength="70.01" lengthAdjust="spacingAndGlyphs">Y-axis</tspan> <tspan x="-667.3" textLength="65.11" lengthAdjust="spacingAndGlyphs">[mm]</tspan></text>
<rect x="1679.7" y="543.2" width="25.9" height="245.3" fill="url(#jet)"/>
<rect x="1680.5" y="544" width="24.4" height="243.8" fill="none" stroke="#2a2a2a" stroke-opacity="0.7" stroke-width="1.5"/>
<text x="1710.6" y="569.3" font-size="19.5" fill="#3c3c3c" textLength="27.61" lengthAdjust="spacingAndGlyphs">0.1</text>
<rect x="1701.1" y="560.6" width="3" height="1.2" fill="#222" opacity="0.6"/>
<text x="1710.6" y="663.5" font-size="19.5" fill="#3c3c3c" textLength="39.03" lengthAdjust="spacingAndGlyphs">0.05</text>
<rect x="1701.1" y="654.8" width="3" height="1.2" fill="#222" opacity="0.6"/>
<text x="1710.6" y="757.3" font-size="19.5" fill="#3c3c3c" textLength="11.47" lengthAdjust="spacingAndGlyphs">0</text>
<rect x="1701.1" y="748.6" width="3" height="1.2" fill="#222" opacity="0.6"/>
<text x="1324.4" y="903.6" font-size="34" fill="#1e1e1e" textLength="40.39" lengthAdjust="spacingAndGlyphs">(c)</text>
</g>
</svg>
</body>
</html>
